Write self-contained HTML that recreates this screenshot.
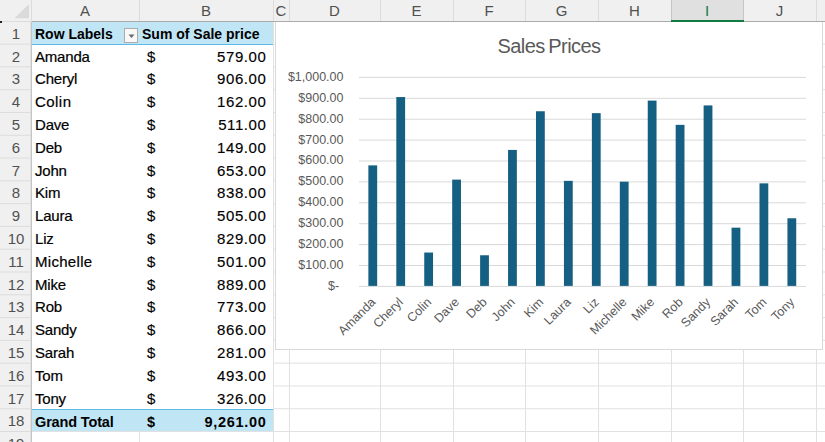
<!DOCTYPE html><html><head><meta charset='utf-8'><style>
*{margin:0;padding:0;box-sizing:border-box}
html,body{width:825px;height:442px;overflow:hidden;background:#fff}
body{position:relative;font-family:"Liberation Sans",sans-serif}
.a{position:absolute}
.t{position:absolute;white-space:nowrap;line-height:1}
</style></head><body>
<svg class="a" style="left:0;top:0" width="825" height="442"><rect x="139" y="22" width="1" height="420" fill="#E1E1E1"/><rect x="273" y="22" width="1" height="420" fill="#E1E1E1"/><rect x="289" y="22" width="1" height="420" fill="#E1E1E1"/><rect x="380" y="22" width="1" height="420" fill="#E1E1E1"/><rect x="453" y="22" width="1" height="420" fill="#E1E1E1"/><rect x="525" y="22" width="1" height="420" fill="#E1E1E1"/><rect x="598" y="22" width="1" height="420" fill="#E1E1E1"/><rect x="671" y="22" width="1" height="420" fill="#E1E1E1"/><rect x="743" y="22" width="1" height="420" fill="#E1E1E1"/><rect x="816" y="22" width="1" height="420" fill="#E1E1E1"/><rect x="32" y="43.59" width="793" height="1" fill="#E1E1E1"/><rect x="32" y="66.38" width="793" height="1" fill="#E1E1E1"/><rect x="32" y="89.17" width="793" height="1" fill="#E1E1E1"/><rect x="32" y="111.96" width="793" height="1" fill="#E1E1E1"/><rect x="32" y="134.75" width="793" height="1" fill="#E1E1E1"/><rect x="32" y="157.54" width="793" height="1" fill="#E1E1E1"/><rect x="32" y="180.33" width="793" height="1" fill="#E1E1E1"/><rect x="32" y="203.12" width="793" height="1" fill="#E1E1E1"/><rect x="32" y="225.91" width="793" height="1" fill="#E1E1E1"/><rect x="32" y="248.70" width="793" height="1" fill="#E1E1E1"/><rect x="32" y="271.49" width="793" height="1" fill="#E1E1E1"/><rect x="32" y="294.28" width="793" height="1" fill="#E1E1E1"/><rect x="32" y="317.07" width="793" height="1" fill="#E1E1E1"/><rect x="32" y="339.86" width="793" height="1" fill="#E1E1E1"/><rect x="32" y="362.65" width="793" height="1" fill="#E1E1E1"/><rect x="32" y="385.44" width="793" height="1" fill="#E1E1E1"/><rect x="32" y="408.23" width="793" height="1" fill="#E1E1E1"/><rect x="32" y="431.02" width="793" height="1" fill="#E1E1E1"/><rect x="32" y="453.81" width="793" height="1" fill="#E1E1E1"/></svg>
<div class="a" style="left:32px;top:22px;width:241px;height:409px;background:#fff"></div>
<div class="a" style="left:32px;top:22px;width:241px;height:22px;background:#C0E6F5"></div>
<div class="a" style="left:32px;top:44px;width:241px;height:1px;background:#5BBBE5"></div>
<div class="a" style="left:32px;top:409px;width:241px;height:22px;background:#C0E6F5"></div>
<div class="a" style="left:32px;top:409px;width:241px;height:1px;background:#5BBBE5"></div>
<div class="a" style="left:275px;top:21px;width:548px;height:329px;background:#fff;border:1px solid #D9D9D9"></div>
<div class="t" style="left:275px;width:548px;top:35.6px;text-align:center;font-size:20px;letter-spacing:-0.55px;word-spacing:-1.5px;color:#595959">Sales Prices</div>
<svg class="a" style="left:0;top:0" width="825" height="442"><rect x="359" y="76.90" width="447" height="1" fill="#D9D9D9"/><rect x="359" y="97.80" width="447" height="1" fill="#D9D9D9"/><rect x="359" y="118.70" width="447" height="1" fill="#D9D9D9"/><rect x="359" y="139.60" width="447" height="1" fill="#D9D9D9"/><rect x="359" y="160.50" width="447" height="1" fill="#D9D9D9"/><rect x="359" y="181.40" width="447" height="1" fill="#D9D9D9"/><rect x="359" y="202.30" width="447" height="1" fill="#D9D9D9"/><rect x="359" y="223.20" width="447" height="1" fill="#D9D9D9"/><rect x="359" y="244.10" width="447" height="1" fill="#D9D9D9"/><rect x="359" y="265.00" width="447" height="1" fill="#D9D9D9"/><rect x="359" y="285.90" width="447" height="1" fill="#D9D9D9"/><rect x="368.37" y="165.39" width="8.8" height="120.51" fill="#156082"/><rect x="396.31" y="97.05" width="8.8" height="188.85" fill="#156082"/><rect x="424.24" y="252.54" width="8.8" height="33.36" fill="#156082"/><rect x="452.18" y="179.60" width="8.8" height="106.30" fill="#156082"/><rect x="480.12" y="255.26" width="8.8" height="30.64" fill="#156082"/><rect x="508.06" y="149.92" width="8.8" height="135.98" fill="#156082"/><rect x="535.99" y="111.26" width="8.8" height="174.64" fill="#156082"/><rect x="563.93" y="180.85" width="8.8" height="105.05" fill="#156082"/><rect x="591.87" y="113.14" width="8.8" height="172.76" fill="#156082"/><rect x="619.81" y="181.69" width="8.8" height="104.21" fill="#156082"/><rect x="647.74" y="100.60" width="8.8" height="185.30" fill="#156082"/><rect x="675.68" y="124.84" width="8.8" height="161.06" fill="#156082"/><rect x="703.62" y="105.41" width="8.8" height="180.49" fill="#156082"/><rect x="731.56" y="227.67" width="8.8" height="58.23" fill="#156082"/><rect x="759.49" y="183.36" width="8.8" height="102.54" fill="#156082"/><rect x="787.43" y="218.27" width="8.8" height="67.63" fill="#156082"/></svg>
<div class="t" style="right:481.5px;top:70.80px;font-size:12.5px;color:#595959">$1,000.00</div>
<div class="t" style="right:481.5px;top:91.70px;font-size:12.5px;color:#595959">$900.00</div>
<div class="t" style="right:481.5px;top:112.60px;font-size:12.5px;color:#595959">$800.00</div>
<div class="t" style="right:481.5px;top:133.50px;font-size:12.5px;color:#595959">$700.00</div>
<div class="t" style="right:481.5px;top:154.40px;font-size:12.5px;color:#595959">$600.00</div>
<div class="t" style="right:481.5px;top:175.30px;font-size:12.5px;color:#595959">$500.00</div>
<div class="t" style="right:481.5px;top:196.20px;font-size:12.5px;color:#595959">$400.00</div>
<div class="t" style="right:481.5px;top:217.10px;font-size:12.5px;color:#595959">$300.00</div>
<div class="t" style="right:481.5px;top:238.00px;font-size:12.5px;color:#595959">$200.00</div>
<div class="t" style="right:481.5px;top:258.90px;font-size:12.5px;color:#595959">$100.00</div>
<div class="t" style="right:485.8px;top:279.80px;font-size:12.5px;color:#595959">$-</div>
<div class="t" style="right:451.53px;top:294.05px;font-size:12.5px;color:#595959;transform-origin:100% 50%;transform:rotate(-45deg)">Amanda</div>
<div class="t" style="right:423.59px;top:294.05px;font-size:12.5px;color:#595959;transform-origin:100% 50%;transform:rotate(-45deg)">Cheryl</div>
<div class="t" style="right:395.66px;top:294.05px;font-size:12.5px;color:#595959;transform-origin:100% 50%;transform:rotate(-45deg)">Colin</div>
<div class="t" style="right:367.72px;top:294.05px;font-size:12.5px;color:#595959;transform-origin:100% 50%;transform:rotate(-45deg)">Dave</div>
<div class="t" style="right:339.78px;top:294.05px;font-size:12.5px;color:#595959;transform-origin:100% 50%;transform:rotate(-45deg)">Deb</div>
<div class="t" style="right:311.84px;top:294.05px;font-size:12.5px;color:#595959;transform-origin:100% 50%;transform:rotate(-45deg)">John</div>
<div class="t" style="right:283.91px;top:294.05px;font-size:12.5px;color:#595959;transform-origin:100% 50%;transform:rotate(-45deg)">Kim</div>
<div class="t" style="right:255.97px;top:294.05px;font-size:12.5px;color:#595959;transform-origin:100% 50%;transform:rotate(-45deg)">Laura</div>
<div class="t" style="right:228.03px;top:294.05px;font-size:12.5px;color:#595959;transform-origin:100% 50%;transform:rotate(-45deg)">Liz</div>
<div class="t" style="right:200.09px;top:294.05px;font-size:12.5px;color:#595959;transform-origin:100% 50%;transform:rotate(-45deg)">Michelle</div>
<div class="t" style="right:172.16px;top:294.05px;font-size:12.5px;color:#595959;transform-origin:100% 50%;transform:rotate(-45deg)">Mike</div>
<div class="t" style="right:144.22px;top:294.05px;font-size:12.5px;color:#595959;transform-origin:100% 50%;transform:rotate(-45deg)">Rob</div>
<div class="t" style="right:116.28px;top:294.05px;font-size:12.5px;color:#595959;transform-origin:100% 50%;transform:rotate(-45deg)">Sandy</div>
<div class="t" style="right:88.34px;top:294.05px;font-size:12.5px;color:#595959;transform-origin:100% 50%;transform:rotate(-45deg)">Sarah</div>
<div class="t" style="right:60.41px;top:294.05px;font-size:12.5px;color:#595959;transform-origin:100% 50%;transform:rotate(-45deg)">Tom</div>
<div class="t" style="right:32.47px;top:294.05px;font-size:12.5px;color:#595959;transform-origin:100% 50%;transform:rotate(-45deg)">Tony</div>
<div class="a" style="left:0;top:0;width:825px;height:21px;background:#F0F0F0"></div>
<div class="a" style="left:0;top:21px;width:825px;height:1px;background:#ABABAB"></div>
<div class="a" style="left:0;top:0;width:31px;height:442px;background:#F0F0F0"></div>
<div class="a" style="left:31px;top:22px;width:1px;height:420px;background:#C4C4C4"></div>
<div class="a" style="left:30px;top:22px;width:1px;height:420px;background:#E2E2E2"></div>
<div class="a" style="left:31px;top:0;width:1px;height:22px;background:#DCDCDC"></div>
<div class="a" style="left:0;top:21px;width:31px;height:1px;background:#DCDCDC"></div>
<div class="a" style="left:0;top:20.5px;width:1.5px;height:2px;background:#222"></div>
<div class="a" style="left:671px;top:0;width:73px;height:20px;background:#E0E0E0"></div>
<div class="a" style="left:139px;top:0px;width:1px;height:21px;background:#DCDCDC"></div>
<div class="a" style="left:273px;top:0px;width:1px;height:21px;background:#DCDCDC"></div>
<div class="a" style="left:289px;top:0px;width:1px;height:21px;background:#DCDCDC"></div>
<div class="a" style="left:380px;top:0px;width:1px;height:21px;background:#DCDCDC"></div>
<div class="a" style="left:453px;top:0px;width:1px;height:21px;background:#DCDCDC"></div>
<div class="a" style="left:525px;top:0px;width:1px;height:21px;background:#DCDCDC"></div>
<div class="a" style="left:598px;top:0px;width:1px;height:21px;background:#DCDCDC"></div>
<div class="a" style="left:671px;top:0px;width:1px;height:21px;background:#DCDCDC"></div>
<div class="a" style="left:743px;top:0px;width:1px;height:21px;background:#DCDCDC"></div>
<div class="a" style="left:816px;top:0px;width:1px;height:21px;background:#DCDCDC"></div>
<svg class="a" style="left:0;top:0" width="31" height="442"><rect x="0" y="43.59" width="31" height="1" fill="#DCDCDC"/><rect x="0" y="66.38" width="31" height="1" fill="#DCDCDC"/><rect x="0" y="89.17" width="31" height="1" fill="#DCDCDC"/><rect x="0" y="111.96" width="31" height="1" fill="#DCDCDC"/><rect x="0" y="134.75" width="31" height="1" fill="#DCDCDC"/><rect x="0" y="157.54" width="31" height="1" fill="#DCDCDC"/><rect x="0" y="180.33" width="31" height="1" fill="#DCDCDC"/><rect x="0" y="203.12" width="31" height="1" fill="#DCDCDC"/><rect x="0" y="225.91" width="31" height="1" fill="#DCDCDC"/><rect x="0" y="248.70" width="31" height="1" fill="#DCDCDC"/><rect x="0" y="271.49" width="31" height="1" fill="#DCDCDC"/><rect x="0" y="294.28" width="31" height="1" fill="#DCDCDC"/><rect x="0" y="317.07" width="31" height="1" fill="#DCDCDC"/><rect x="0" y="339.86" width="31" height="1" fill="#DCDCDC"/><rect x="0" y="362.65" width="31" height="1" fill="#DCDCDC"/><rect x="0" y="385.44" width="31" height="1" fill="#DCDCDC"/><rect x="0" y="408.23" width="31" height="1" fill="#DCDCDC"/><rect x="0" y="431.02" width="31" height="1" fill="#DCDCDC"/><rect x="0" y="453.81" width="31" height="1" fill="#DCDCDC"/></svg>
<div class="a" style="left:671px;top:0;width:1px;height:21px;background:#C6C6C6"></div>
<div class="a" style="left:743px;top:0;width:1px;height:21px;background:#C6C6C6"></div>
<div class="a" style="left:671px;top:20px;width:73px;height:2px;background:#107C41"></div>
<svg class="a" style="left:0;top:0" width="31" height="21"><polygon points="29,4 29,18.2 14.5,18.2" fill="#DADADA"/></svg>
<div class="t" style="left:31px;width:108px;top:3.0px;text-align:center;font-size:15px;color:#505050">A</div>
<div class="t" style="left:139px;width:134px;top:3.0px;text-align:center;font-size:15px;color:#505050">B</div>
<div class="t" style="left:273px;width:16px;top:3.0px;text-align:center;font-size:15px;color:#505050">C</div>
<div class="t" style="left:289px;width:91px;top:3.0px;text-align:center;font-size:15px;color:#505050">D</div>
<div class="t" style="left:380px;width:73px;top:3.0px;text-align:center;font-size:15px;color:#505050">E</div>
<div class="t" style="left:453px;width:72px;top:3.0px;text-align:center;font-size:15px;color:#505050">F</div>
<div class="t" style="left:525px;width:73px;top:3.0px;text-align:center;font-size:15px;color:#505050">G</div>
<div class="t" style="left:598px;width:73px;top:3.0px;text-align:center;font-size:15px;color:#505050">H</div>
<div class="t" style="left:671px;width:72px;top:3.0px;text-align:center;font-size:15px;color:#107C41">I</div>
<div class="t" style="left:743px;width:73px;top:3.0px;text-align:center;font-size:15px;color:#505050">J</div>
<div class="t" style="left:0;width:32px;top:25.89px;text-align:center;font-size:15px;color:#505050">1</div>
<div class="t" style="left:0;width:32px;top:48.68px;text-align:center;font-size:15px;color:#505050">2</div>
<div class="t" style="left:0;width:32px;top:71.47px;text-align:center;font-size:15px;color:#505050">3</div>
<div class="t" style="left:0;width:32px;top:94.26px;text-align:center;font-size:15px;color:#505050">4</div>
<div class="t" style="left:0;width:32px;top:117.05px;text-align:center;font-size:15px;color:#505050">5</div>
<div class="t" style="left:0;width:32px;top:139.84px;text-align:center;font-size:15px;color:#505050">6</div>
<div class="t" style="left:0;width:32px;top:162.63px;text-align:center;font-size:15px;color:#505050">7</div>
<div class="t" style="left:0;width:32px;top:185.42px;text-align:center;font-size:15px;color:#505050">8</div>
<div class="t" style="left:0;width:32px;top:208.21px;text-align:center;font-size:15px;color:#505050">9</div>
<div class="t" style="left:0;width:32px;top:231.00px;text-align:center;font-size:15px;color:#505050">10</div>
<div class="t" style="left:0;width:32px;top:253.79px;text-align:center;font-size:15px;color:#505050">11</div>
<div class="t" style="left:0;width:32px;top:276.58px;text-align:center;font-size:15px;color:#505050">12</div>
<div class="t" style="left:0;width:32px;top:299.37px;text-align:center;font-size:15px;color:#505050">13</div>
<div class="t" style="left:0;width:32px;top:322.16px;text-align:center;font-size:15px;color:#505050">14</div>
<div class="t" style="left:0;width:32px;top:344.95px;text-align:center;font-size:15px;color:#505050">15</div>
<div class="t" style="left:0;width:32px;top:367.74px;text-align:center;font-size:15px;color:#505050">16</div>
<div class="t" style="left:0;width:32px;top:390.53px;text-align:center;font-size:15px;color:#505050">17</div>
<div class="t" style="left:0;width:32px;top:413.32px;text-align:center;font-size:15px;color:#505050">18</div>
<div class="t" style="left:0;width:32px;top:436.11px;text-align:center;font-size:15px;color:#505050">19</div>
<div class="t" style="left:35px;top:27.09px;font-size:14px;font-weight:bold;color:#000">Row Labels</div>
<div class="t" style="left:142px;top:27.09px;font-size:14px;font-weight:bold;color:#000">Sum of Sale price</div>
<div class="a" style="left:124px;top:28px;width:14px;height:15px;background:#F8F8F8;border:1px solid #ABABAB"></div>
<svg class="a" style="left:128px;top:34px" width="7" height="5"><polygon points="0.5,0.5 6.5,0.5 3.5,4" fill="#6A6A6A"/></svg>
<div class="t" style="left:35px;top:48.68px;font-size:15px;letter-spacing:-0.2px;-webkit-text-stroke:0.2px #000;color:#000">Amanda</div>
<div class="t" style="left:147px;top:48.68px;font-size:15px;color:#000;-webkit-text-stroke:0.15px #000">$</div>
<div class="t" style="right:558.5px;top:48.68px;font-size:15px;color:#000;letter-spacing:0.6px;-webkit-text-stroke:0.15px #000">579.00</div>
<div class="t" style="left:35px;top:71.47px;font-size:15px;letter-spacing:-0.2px;-webkit-text-stroke:0.2px #000;color:#000">Cheryl</div>
<div class="t" style="left:147px;top:71.47px;font-size:15px;color:#000;-webkit-text-stroke:0.15px #000">$</div>
<div class="t" style="right:558.5px;top:71.47px;font-size:15px;color:#000;letter-spacing:0.6px;-webkit-text-stroke:0.15px #000">906.00</div>
<div class="t" style="left:35px;top:94.26px;font-size:15px;letter-spacing:0.45px;-webkit-text-stroke:0.2px #000;color:#000">Colin</div>
<div class="t" style="left:147px;top:94.26px;font-size:15px;color:#000;-webkit-text-stroke:0.15px #000">$</div>
<div class="t" style="right:558.5px;top:94.26px;font-size:15px;color:#000;letter-spacing:0.6px;-webkit-text-stroke:0.15px #000">162.00</div>
<div class="t" style="left:35px;top:117.05px;font-size:15px;letter-spacing:-0.2px;-webkit-text-stroke:0.2px #000;color:#000">Dave</div>
<div class="t" style="left:147px;top:117.05px;font-size:15px;color:#000;-webkit-text-stroke:0.15px #000">$</div>
<div class="t" style="right:558.5px;top:117.05px;font-size:15px;color:#000;letter-spacing:0.6px;-webkit-text-stroke:0.15px #000">511.00</div>
<div class="t" style="left:35px;top:139.84px;font-size:15px;letter-spacing:-0.2px;-webkit-text-stroke:0.2px #000;color:#000">Deb</div>
<div class="t" style="left:147px;top:139.84px;font-size:15px;color:#000;-webkit-text-stroke:0.15px #000">$</div>
<div class="t" style="right:558.5px;top:139.84px;font-size:15px;color:#000;letter-spacing:0.6px;-webkit-text-stroke:0.15px #000">149.00</div>
<div class="t" style="left:35px;top:162.63px;font-size:15px;letter-spacing:-0.2px;-webkit-text-stroke:0.2px #000;color:#000">John</div>
<div class="t" style="left:147px;top:162.63px;font-size:15px;color:#000;-webkit-text-stroke:0.15px #000">$</div>
<div class="t" style="right:558.5px;top:162.63px;font-size:15px;color:#000;letter-spacing:0.6px;-webkit-text-stroke:0.15px #000">653.00</div>
<div class="t" style="left:35px;top:185.42px;font-size:15px;letter-spacing:-0.2px;-webkit-text-stroke:0.2px #000;color:#000">Kim</div>
<div class="t" style="left:147px;top:185.42px;font-size:15px;color:#000;-webkit-text-stroke:0.15px #000">$</div>
<div class="t" style="right:558.5px;top:185.42px;font-size:15px;color:#000;letter-spacing:0.6px;-webkit-text-stroke:0.15px #000">838.00</div>
<div class="t" style="left:35px;top:208.21px;font-size:15px;letter-spacing:-0.2px;-webkit-text-stroke:0.2px #000;color:#000">Laura</div>
<div class="t" style="left:147px;top:208.21px;font-size:15px;color:#000;-webkit-text-stroke:0.15px #000">$</div>
<div class="t" style="right:558.5px;top:208.21px;font-size:15px;color:#000;letter-spacing:0.6px;-webkit-text-stroke:0.15px #000">505.00</div>
<div class="t" style="left:35px;top:231.00px;font-size:15px;letter-spacing:-0.2px;-webkit-text-stroke:0.2px #000;color:#000">Liz</div>
<div class="t" style="left:147px;top:231.00px;font-size:15px;color:#000;-webkit-text-stroke:0.15px #000">$</div>
<div class="t" style="right:558.5px;top:231.00px;font-size:15px;color:#000;letter-spacing:0.6px;-webkit-text-stroke:0.15px #000">829.00</div>
<div class="t" style="left:35px;top:253.79px;font-size:15px;letter-spacing:0.3px;-webkit-text-stroke:0.2px #000;color:#000">Michelle</div>
<div class="t" style="left:147px;top:253.79px;font-size:15px;color:#000;-webkit-text-stroke:0.15px #000">$</div>
<div class="t" style="right:558.5px;top:253.79px;font-size:15px;color:#000;letter-spacing:0.6px;-webkit-text-stroke:0.15px #000">501.00</div>
<div class="t" style="left:35px;top:276.58px;font-size:15px;letter-spacing:-0.2px;-webkit-text-stroke:0.2px #000;color:#000">Mike</div>
<div class="t" style="left:147px;top:276.58px;font-size:15px;color:#000;-webkit-text-stroke:0.15px #000">$</div>
<div class="t" style="right:558.5px;top:276.58px;font-size:15px;color:#000;letter-spacing:0.6px;-webkit-text-stroke:0.15px #000">889.00</div>
<div class="t" style="left:35px;top:299.37px;font-size:15px;letter-spacing:-0.2px;-webkit-text-stroke:0.2px #000;color:#000">Rob</div>
<div class="t" style="left:147px;top:299.37px;font-size:15px;color:#000;-webkit-text-stroke:0.15px #000">$</div>
<div class="t" style="right:558.5px;top:299.37px;font-size:15px;color:#000;letter-spacing:0.6px;-webkit-text-stroke:0.15px #000">773.00</div>
<div class="t" style="left:35px;top:322.16px;font-size:15px;letter-spacing:-0.2px;-webkit-text-stroke:0.2px #000;color:#000">Sandy</div>
<div class="t" style="left:147px;top:322.16px;font-size:15px;color:#000;-webkit-text-stroke:0.15px #000">$</div>
<div class="t" style="right:558.5px;top:322.16px;font-size:15px;color:#000;letter-spacing:0.6px;-webkit-text-stroke:0.15px #000">866.00</div>
<div class="t" style="left:35px;top:344.95px;font-size:15px;letter-spacing:-0.2px;-webkit-text-stroke:0.2px #000;color:#000">Sarah</div>
<div class="t" style="left:147px;top:344.95px;font-size:15px;color:#000;-webkit-text-stroke:0.15px #000">$</div>
<div class="t" style="right:558.5px;top:344.95px;font-size:15px;color:#000;letter-spacing:0.6px;-webkit-text-stroke:0.15px #000">281.00</div>
<div class="t" style="left:35px;top:367.74px;font-size:15px;letter-spacing:-0.2px;-webkit-text-stroke:0.2px #000;color:#000">Tom</div>
<div class="t" style="left:147px;top:367.74px;font-size:15px;color:#000;-webkit-text-stroke:0.15px #000">$</div>
<div class="t" style="right:558.5px;top:367.74px;font-size:15px;color:#000;letter-spacing:0.6px;-webkit-text-stroke:0.15px #000">493.00</div>
<div class="t" style="left:35px;top:390.53px;font-size:15px;letter-spacing:-0.2px;-webkit-text-stroke:0.2px #000;color:#000">Tony</div>
<div class="t" style="left:147px;top:390.53px;font-size:15px;color:#000;-webkit-text-stroke:0.15px #000">$</div>
<div class="t" style="right:558.5px;top:390.53px;font-size:15px;color:#000;letter-spacing:0.6px;-webkit-text-stroke:0.15px #000">326.00</div>
<div class="t" style="left:35px;top:414.52px;font-size:14.5px;font-weight:bold;color:#000;letter-spacing:-0.15px">Grand Total</div>
<div class="t" style="left:147px;top:414.52px;font-size:14.5px;font-weight:bold;color:#000">$</div>
<div class="t" style="right:558.5px;top:414.52px;font-size:14.5px;font-weight:bold;color:#000;letter-spacing:0.7px">9,261.00</div>
</body></html>
